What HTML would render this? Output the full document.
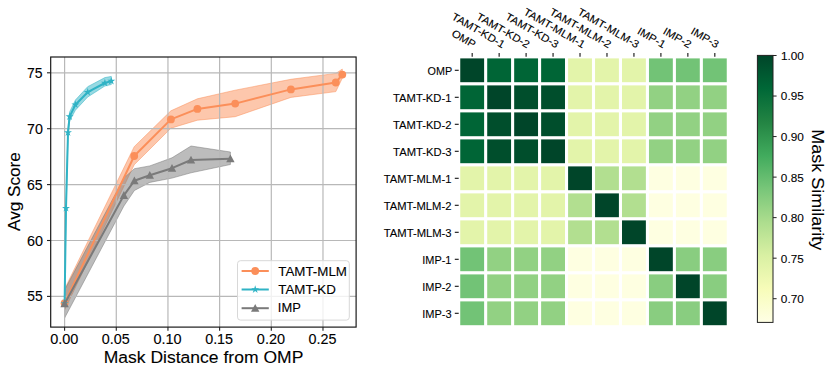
<!DOCTYPE html><html><head><meta charset="utf-8"><style>html,body{margin:0;padding:0;background:#fff;overflow:hidden}svg{display:block}text{font-family:"Liberation Sans",sans-serif;stroke:#000;stroke-width:0.1px}</style></head><body><svg width="831" height="374" viewBox="0 0 831 374" font-family="Liberation Sans, sans-serif">
<rect width="831" height="374" fill="#fff"/>
<defs><clipPath id="axclip"><rect x="50.70" y="57.00" width="305.40" height="270.10"/></clipPath></defs>
<g clip-path="url(#axclip)">
<polygon points="64.60,289.00 134.20,146.70 170.90,110.80 197.40,98.80 235.20,90.20 290.90,79.30 335.80,73.40 342.30,69.10 342.30,78.20 335.80,91.60 290.90,97.40 235.20,116.70 197.40,120.20 170.90,128.20 134.20,164.80 64.60,310.00" fill="#fb8f5a" fill-opacity="0.5" stroke="#fb8f5a" stroke-opacity="0.5" stroke-width="1"/>
<polygon points="64.60,298.00 66.00,203.00 68.00,128.00 69.60,112.00 75.40,100.00 87.70,86.70 104.90,77.60 111.30,76.40 111.30,84.50 104.90,86.00 87.70,97.00 75.40,110.20 69.60,121.00 68.00,137.00 66.00,213.00 64.60,309.00" fill="#2fb3c5" fill-opacity="0.5" stroke="#2fb3c5" stroke-opacity="0.5" stroke-width="1"/>
<polygon points="64.60,290.00 123.90,178.00 134.40,168.70 149.80,165.90 172.00,157.80 191.00,146.00 230.40,152.00 230.40,164.50 191.00,172.80 172.00,178.10 149.80,182.40 134.40,190.50 123.90,206.00 64.60,318.00" fill="#7a7a7a" fill-opacity="0.5" stroke="#7a7a7a" stroke-opacity="0.5" stroke-width="1"/>
</g>
<g stroke="#b8b8b8" stroke-width="1.2"><line x1="64.60" y1="57.0" x2="64.60" y2="327.1"/><line x1="116.28" y1="57.0" x2="116.28" y2="327.1"/><line x1="167.95" y1="57.0" x2="167.95" y2="327.1"/><line x1="219.62" y1="57.0" x2="219.62" y2="327.1"/><line x1="271.30" y1="57.0" x2="271.30" y2="327.1"/><line x1="322.98" y1="57.0" x2="322.98" y2="327.1"/><line x1="50.7" y1="296.40" x2="356.1" y2="296.40"/><line x1="50.7" y1="240.50" x2="356.1" y2="240.50"/><line x1="50.7" y1="184.60" x2="356.1" y2="184.60"/><line x1="50.7" y1="128.70" x2="356.1" y2="128.70"/><line x1="50.7" y1="72.80" x2="356.1" y2="72.80"/></g>
<g clip-path="url(#axclip)">
<polyline points="64.60,303.20 134.20,156.00 170.90,119.40 197.40,108.90 235.20,103.60 290.90,89.40 335.80,82.50 342.30,74.60" fill="none" stroke="#fb8f5a" stroke-width="2" stroke-linejoin="round"/>
<circle cx="64.60" cy="303.20" r="3.9" fill="#fb8f5a"/>
<circle cx="134.20" cy="156.00" r="3.9" fill="#fb8f5a"/>
<circle cx="170.90" cy="119.40" r="3.9" fill="#fb8f5a"/>
<circle cx="197.40" cy="108.90" r="3.9" fill="#fb8f5a"/>
<circle cx="235.20" cy="103.60" r="3.9" fill="#fb8f5a"/>
<circle cx="290.90" cy="89.40" r="3.9" fill="#fb8f5a"/>
<circle cx="335.80" cy="82.50" r="3.9" fill="#fb8f5a"/>
<circle cx="342.30" cy="74.60" r="3.9" fill="#fb8f5a"/>
<polyline points="64.60,303.50 66.00,208.20 68.00,132.50 69.60,116.60 75.40,104.70 87.70,92.20 104.90,83.00 111.30,81.10" fill="none" stroke="#2fb3c5" stroke-width="2" stroke-linejoin="round"/>
<polygon points="64.60,299.30 65.54,302.20 68.59,302.20 66.13,304.00 67.07,306.90 64.60,305.10 62.13,306.90 63.07,304.00 60.61,302.20 63.66,302.20" fill="#2fb3c5"/>
<polygon points="66.00,204.00 66.94,206.90 69.99,206.90 67.53,208.70 68.47,211.60 66.00,209.80 63.53,211.60 64.47,208.70 62.01,206.90 65.06,206.90" fill="#2fb3c5"/>
<polygon points="68.00,128.30 68.94,131.20 71.99,131.20 69.53,133.00 70.47,135.90 68.00,134.10 65.53,135.90 66.47,133.00 64.01,131.20 67.06,131.20" fill="#2fb3c5"/>
<polygon points="69.60,112.40 70.54,115.30 73.59,115.30 71.13,117.10 72.07,120.00 69.60,118.20 67.13,120.00 68.07,117.10 65.61,115.30 68.66,115.30" fill="#2fb3c5"/>
<polygon points="75.40,100.50 76.34,103.40 79.39,103.40 76.93,105.20 77.87,108.10 75.40,106.30 72.93,108.10 73.87,105.20 71.41,103.40 74.46,103.40" fill="#2fb3c5"/>
<polygon points="87.70,88.00 88.64,90.90 91.69,90.90 89.23,92.70 90.17,95.60 87.70,93.80 85.23,95.60 86.17,92.70 83.71,90.90 86.76,90.90" fill="#2fb3c5"/>
<polygon points="104.90,78.80 105.84,81.70 108.89,81.70 106.43,83.50 107.37,86.40 104.90,84.60 102.43,86.40 103.37,83.50 100.91,81.70 103.96,81.70" fill="#2fb3c5"/>
<polygon points="111.30,76.90 112.24,79.80 115.29,79.80 112.83,81.60 113.77,84.50 111.30,82.70 108.83,84.50 109.77,81.60 107.31,79.80 110.36,79.80" fill="#2fb3c5"/>
<polyline points="64.60,303.70 123.90,195.30 134.40,180.70 149.80,175.20 172.00,168.20 191.00,160.00 230.40,158.70" fill="none" stroke="#7a7a7a" stroke-width="2" stroke-linejoin="round"/>
<polygon points="64.60,299.50 60.40,307.30 68.80,307.30" fill="#7a7a7a"/>
<polygon points="123.90,191.10 119.70,198.90 128.10,198.90" fill="#7a7a7a"/>
<polygon points="134.40,176.50 130.20,184.30 138.60,184.30" fill="#7a7a7a"/>
<polygon points="149.80,171.00 145.60,178.80 154.00,178.80" fill="#7a7a7a"/>
<polygon points="172.00,164.00 167.80,171.80 176.20,171.80" fill="#7a7a7a"/>
<polygon points="191.00,155.80 186.80,163.60 195.20,163.60" fill="#7a7a7a"/>
<polygon points="230.40,154.50 226.20,162.30 234.60,162.30" fill="#7a7a7a"/>
</g>
<rect x="50.7" y="57.0" width="305.40" height="270.10" fill="none" stroke="#111" stroke-width="1.15"/>
<g stroke="#222" stroke-width="1.1"><line x1="64.60" y1="327.1" x2="64.60" y2="330.80"/><line x1="116.28" y1="327.1" x2="116.28" y2="330.80"/><line x1="167.95" y1="327.1" x2="167.95" y2="330.80"/><line x1="219.62" y1="327.1" x2="219.62" y2="330.80"/><line x1="271.30" y1="327.1" x2="271.30" y2="330.80"/><line x1="322.98" y1="327.1" x2="322.98" y2="330.80"/><line x1="47.00" y1="296.40" x2="50.7" y2="296.40"/><line x1="47.00" y1="240.50" x2="50.7" y2="240.50"/><line x1="47.00" y1="184.60" x2="50.7" y2="184.60"/><line x1="47.00" y1="128.70" x2="50.7" y2="128.70"/><line x1="47.00" y1="72.80" x2="50.7" y2="72.80"/></g>
<text transform="translate(27.19,301.42) scale(1.0096,1)" font-size="13.74" fill="#000">55</text>
<text transform="translate(26.90,245.65) scale(1.0340,1)" font-size="13.92" fill="#000">60</text>
<text transform="translate(26.91,189.75) scale(1.0158,1)" font-size="13.92" fill="#000">65</text>
<text transform="translate(27.03,133.85) scale(1.0249,1)" font-size="13.92" fill="#000">70</text>
<text transform="translate(27.05,77.82) scale(1.0194,1)" font-size="13.74" fill="#000">75</text>
<text transform="translate(50.13,344.07) scale(1.0491,1)" font-size="13.81" fill="#000">0.00</text>
<text transform="translate(101.81,344.07) scale(1.0391,1)" font-size="13.81" fill="#000">0.05</text>
<text transform="translate(153.48,344.07) scale(1.0491,1)" font-size="13.81" fill="#000">0.10</text>
<text transform="translate(205.16,344.07) scale(1.0391,1)" font-size="13.81" fill="#000">0.15</text>
<text transform="translate(256.83,344.07) scale(1.0491,1)" font-size="13.81" fill="#000">0.20</text>
<text transform="translate(308.51,344.07) scale(1.0391,1)" font-size="13.81" fill="#000">0.25</text>
<text transform="translate(103.70,362.74) scale(1.1134,1)" font-size="15.75" fill="#000">Mask Distance from OMP</text>
<text transform="translate(19.80,231.00) rotate(-90) scale(1.0304,1)" font-size="16.67">Avg Score</text>
<rect x="237.5" y="260.7" width="111.8" height="59.4" rx="3" ry="3" fill="#fff" fill-opacity="0.8" stroke="#d8d8d8" stroke-width="1"/>
<line x1="241.6" y1="271.0" x2="268.8" y2="271.0" stroke="#fb8f5a" stroke-width="2"/>
<circle cx="255.2" cy="271.0" r="3.9" fill="#fb8f5a"/>
<text transform="translate(278.23,275.90) scale(1.0368,1)" font-size="12.90" fill="#000">TAMT-MLM</text>
<line x1="241.6" y1="289.5" x2="268.8" y2="289.5" stroke="#2fb3c5" stroke-width="2"/>
<polygon points="255.20,285.30 256.14,288.20 259.19,288.20 256.73,290.00 257.67,292.90 255.20,291.10 252.73,292.90 253.67,290.00 251.21,288.20 254.26,288.20" fill="#2fb3c5"/>
<text transform="translate(278.23,293.90) scale(1.0024,1)" font-size="13.33" fill="#000">TAMT-KD</text>
<line x1="241.6" y1="308.2" x2="268.8" y2="308.2" stroke="#7a7a7a" stroke-width="2"/>
<polygon points="255.2,304.0 251.0,311.8 259.4,311.8" fill="#7a7a7a"/>
<text transform="translate(277.84,312.30) scale(1.0022,1)" font-size="12.90" fill="#000">IMP</text>
<rect x="460.25" y="58.40" width="23.86" height="23.80" fill="#004529"/>
<rect x="487.21" y="58.40" width="23.86" height="23.80" fill="#006536"/>
<rect x="514.17" y="58.40" width="23.86" height="23.80" fill="#006536"/>
<rect x="541.13" y="58.40" width="23.86" height="23.80" fill="#006536"/>
<rect x="568.09" y="58.40" width="23.86" height="23.80" fill="#e3f4aa"/>
<rect x="595.05" y="58.40" width="23.86" height="23.80" fill="#e3f4aa"/>
<rect x="622.01" y="58.40" width="23.86" height="23.80" fill="#e3f4aa"/>
<rect x="648.97" y="58.40" width="23.86" height="23.80" fill="#72c376"/>
<rect x="675.93" y="58.40" width="23.86" height="23.80" fill="#72c376"/>
<rect x="702.89" y="58.40" width="23.86" height="23.80" fill="#72c376"/>
<rect x="460.25" y="85.40" width="23.86" height="23.80" fill="#006536"/>
<rect x="487.21" y="85.40" width="23.86" height="23.80" fill="#004529"/>
<rect x="514.17" y="85.40" width="23.86" height="23.80" fill="#004e2c"/>
<rect x="541.13" y="85.40" width="23.86" height="23.80" fill="#004e2c"/>
<rect x="568.09" y="85.40" width="23.86" height="23.80" fill="#e3f4aa"/>
<rect x="595.05" y="85.40" width="23.86" height="23.80" fill="#e3f4aa"/>
<rect x="622.01" y="85.40" width="23.86" height="23.80" fill="#e3f4aa"/>
<rect x="648.97" y="85.40" width="23.86" height="23.80" fill="#92d183"/>
<rect x="675.93" y="85.40" width="23.86" height="23.80" fill="#92d183"/>
<rect x="702.89" y="85.40" width="23.86" height="23.80" fill="#92d183"/>
<rect x="460.25" y="112.40" width="23.86" height="23.80" fill="#006536"/>
<rect x="487.21" y="112.40" width="23.86" height="23.80" fill="#004e2c"/>
<rect x="514.17" y="112.40" width="23.86" height="23.80" fill="#004529"/>
<rect x="541.13" y="112.40" width="23.86" height="23.80" fill="#004e2c"/>
<rect x="568.09" y="112.40" width="23.86" height="23.80" fill="#e3f4aa"/>
<rect x="595.05" y="112.40" width="23.86" height="23.80" fill="#e3f4aa"/>
<rect x="622.01" y="112.40" width="23.86" height="23.80" fill="#e3f4aa"/>
<rect x="648.97" y="112.40" width="23.86" height="23.80" fill="#92d183"/>
<rect x="675.93" y="112.40" width="23.86" height="23.80" fill="#92d183"/>
<rect x="702.89" y="112.40" width="23.86" height="23.80" fill="#92d183"/>
<rect x="460.25" y="139.40" width="23.86" height="23.80" fill="#006536"/>
<rect x="487.21" y="139.40" width="23.86" height="23.80" fill="#004e2c"/>
<rect x="514.17" y="139.40" width="23.86" height="23.80" fill="#004e2c"/>
<rect x="541.13" y="139.40" width="23.86" height="23.80" fill="#004529"/>
<rect x="568.09" y="139.40" width="23.86" height="23.80" fill="#e3f4aa"/>
<rect x="595.05" y="139.40" width="23.86" height="23.80" fill="#e3f4aa"/>
<rect x="622.01" y="139.40" width="23.86" height="23.80" fill="#e3f4aa"/>
<rect x="648.97" y="139.40" width="23.86" height="23.80" fill="#92d183"/>
<rect x="675.93" y="139.40" width="23.86" height="23.80" fill="#92d183"/>
<rect x="702.89" y="139.40" width="23.86" height="23.80" fill="#92d183"/>
<rect x="460.25" y="166.40" width="23.86" height="23.80" fill="#e3f4aa"/>
<rect x="487.21" y="166.40" width="23.86" height="23.80" fill="#e3f4aa"/>
<rect x="514.17" y="166.40" width="23.86" height="23.80" fill="#e3f4aa"/>
<rect x="541.13" y="166.40" width="23.86" height="23.80" fill="#e3f4aa"/>
<rect x="568.09" y="166.40" width="23.86" height="23.80" fill="#004529"/>
<rect x="595.05" y="166.40" width="23.86" height="23.80" fill="#b2df90"/>
<rect x="622.01" y="166.40" width="23.86" height="23.80" fill="#b2df90"/>
<rect x="648.97" y="166.40" width="23.86" height="23.80" fill="#feffe1"/>
<rect x="675.93" y="166.40" width="23.86" height="23.80" fill="#feffe1"/>
<rect x="702.89" y="166.40" width="23.86" height="23.80" fill="#feffe1"/>
<rect x="460.25" y="193.40" width="23.86" height="23.80" fill="#e3f4aa"/>
<rect x="487.21" y="193.40" width="23.86" height="23.80" fill="#e3f4aa"/>
<rect x="514.17" y="193.40" width="23.86" height="23.80" fill="#e3f4aa"/>
<rect x="541.13" y="193.40" width="23.86" height="23.80" fill="#e3f4aa"/>
<rect x="568.09" y="193.40" width="23.86" height="23.80" fill="#b2df90"/>
<rect x="595.05" y="193.40" width="23.86" height="23.80" fill="#004529"/>
<rect x="622.01" y="193.40" width="23.86" height="23.80" fill="#b2df90"/>
<rect x="648.97" y="193.40" width="23.86" height="23.80" fill="#feffe1"/>
<rect x="675.93" y="193.40" width="23.86" height="23.80" fill="#feffe1"/>
<rect x="702.89" y="193.40" width="23.86" height="23.80" fill="#feffe1"/>
<rect x="460.25" y="220.40" width="23.86" height="23.80" fill="#e3f4aa"/>
<rect x="487.21" y="220.40" width="23.86" height="23.80" fill="#e3f4aa"/>
<rect x="514.17" y="220.40" width="23.86" height="23.80" fill="#e3f4aa"/>
<rect x="541.13" y="220.40" width="23.86" height="23.80" fill="#e3f4aa"/>
<rect x="568.09" y="220.40" width="23.86" height="23.80" fill="#b2df90"/>
<rect x="595.05" y="220.40" width="23.86" height="23.80" fill="#b2df90"/>
<rect x="622.01" y="220.40" width="23.86" height="23.80" fill="#004529"/>
<rect x="648.97" y="220.40" width="23.86" height="23.80" fill="#feffe1"/>
<rect x="675.93" y="220.40" width="23.86" height="23.80" fill="#feffe1"/>
<rect x="702.89" y="220.40" width="23.86" height="23.80" fill="#feffe1"/>
<rect x="460.25" y="247.40" width="23.86" height="23.80" fill="#72c376"/>
<rect x="487.21" y="247.40" width="23.86" height="23.80" fill="#92d183"/>
<rect x="514.17" y="247.40" width="23.86" height="23.80" fill="#92d183"/>
<rect x="541.13" y="247.40" width="23.86" height="23.80" fill="#92d183"/>
<rect x="568.09" y="247.40" width="23.86" height="23.80" fill="#feffe1"/>
<rect x="595.05" y="247.40" width="23.86" height="23.80" fill="#feffe1"/>
<rect x="622.01" y="247.40" width="23.86" height="23.80" fill="#feffe1"/>
<rect x="648.97" y="247.40" width="23.86" height="23.80" fill="#004529"/>
<rect x="675.93" y="247.40" width="23.86" height="23.80" fill="#89cd80"/>
<rect x="702.89" y="247.40" width="23.86" height="23.80" fill="#89cd80"/>
<rect x="460.25" y="274.40" width="23.86" height="23.80" fill="#72c376"/>
<rect x="487.21" y="274.40" width="23.86" height="23.80" fill="#92d183"/>
<rect x="514.17" y="274.40" width="23.86" height="23.80" fill="#92d183"/>
<rect x="541.13" y="274.40" width="23.86" height="23.80" fill="#92d183"/>
<rect x="568.09" y="274.40" width="23.86" height="23.80" fill="#feffe1"/>
<rect x="595.05" y="274.40" width="23.86" height="23.80" fill="#feffe1"/>
<rect x="622.01" y="274.40" width="23.86" height="23.80" fill="#feffe1"/>
<rect x="648.97" y="274.40" width="23.86" height="23.80" fill="#89cd80"/>
<rect x="675.93" y="274.40" width="23.86" height="23.80" fill="#004529"/>
<rect x="702.89" y="274.40" width="23.86" height="23.80" fill="#89cd80"/>
<rect x="460.25" y="301.40" width="23.86" height="23.80" fill="#72c376"/>
<rect x="487.21" y="301.40" width="23.86" height="23.80" fill="#92d183"/>
<rect x="514.17" y="301.40" width="23.86" height="23.80" fill="#92d183"/>
<rect x="541.13" y="301.40" width="23.86" height="23.80" fill="#92d183"/>
<rect x="568.09" y="301.40" width="23.86" height="23.80" fill="#feffe1"/>
<rect x="595.05" y="301.40" width="23.86" height="23.80" fill="#feffe1"/>
<rect x="622.01" y="301.40" width="23.86" height="23.80" fill="#feffe1"/>
<rect x="648.97" y="301.40" width="23.86" height="23.80" fill="#89cd80"/>
<rect x="675.93" y="301.40" width="23.86" height="23.80" fill="#89cd80"/>
<rect x="702.89" y="301.40" width="23.86" height="23.80" fill="#004529"/>
<g stroke="#111" stroke-width="1.1"><line x1="472.18" y1="52.90" x2="472.18" y2="56.80"/><line x1="499.14" y1="52.90" x2="499.14" y2="56.80"/><line x1="526.10" y1="52.90" x2="526.10" y2="56.80"/><line x1="553.06" y1="52.90" x2="553.06" y2="56.80"/><line x1="580.02" y1="52.90" x2="580.02" y2="56.80"/><line x1="606.98" y1="52.90" x2="606.98" y2="56.80"/><line x1="633.94" y1="52.90" x2="633.94" y2="56.80"/><line x1="660.90" y1="52.90" x2="660.90" y2="56.80"/><line x1="687.86" y1="52.90" x2="687.86" y2="56.80"/><line x1="714.82" y1="52.90" x2="714.82" y2="56.80"/><line x1="454.80" y1="70.30" x2="458.70" y2="70.30"/><line x1="454.80" y1="97.30" x2="458.70" y2="97.30"/><line x1="454.80" y1="124.30" x2="458.70" y2="124.30"/><line x1="454.80" y1="151.30" x2="458.70" y2="151.30"/><line x1="454.80" y1="178.30" x2="458.70" y2="178.30"/><line x1="454.80" y1="205.30" x2="458.70" y2="205.30"/><line x1="454.80" y1="232.30" x2="458.70" y2="232.30"/><line x1="454.80" y1="259.30" x2="458.70" y2="259.30"/><line x1="454.80" y1="286.30" x2="458.70" y2="286.30"/><line x1="454.80" y1="313.30" x2="458.70" y2="313.30"/></g>
<text transform="translate(427.56,74.68) scale(0.9256,1)" font-size="11.67" fill="#000">OMP</text>
<text transform="translate(393.10,101.63) scale(0.9728,1)" font-size="11.53" fill="#000">TAMT-KD-1</text>
<text transform="translate(393.10,128.74) scale(0.9606,1)" font-size="11.68" fill="#000">TAMT-KD-2</text>
<text transform="translate(393.10,155.68) scale(0.9651,1)" font-size="11.67" fill="#000">TAMT-KD-3</text>
<text transform="translate(383.76,182.63) scale(0.9721,1)" font-size="11.53" fill="#000">TAMT-MLM-1</text>
<text transform="translate(383.76,209.74) scale(0.9599,1)" font-size="11.68" fill="#000">TAMT-MLM-2</text>
<text transform="translate(383.76,236.68) scale(0.9639,1)" font-size="11.67" fill="#000">TAMT-MLM-3</text>
<text transform="translate(422.29,263.63) scale(0.9489,1)" font-size="11.53" fill="#000">IMP-1</text>
<text transform="translate(422.29,290.74) scale(0.9370,1)" font-size="11.68" fill="#000">IMP-2</text>
<text transform="translate(422.28,317.68) scale(0.9453,1)" font-size="11.67" fill="#000">IMP-3</text>
<text transform="translate(473.18,48.40) rotate(30) scale(1.08,1)" font-size="10.6" text-anchor="end">OMP</text>
<text transform="translate(502.34,48.40) rotate(30) scale(1.08,1)" font-size="10.6" text-anchor="end">TAMT-KD-1</text>
<text transform="translate(527.10,48.40) rotate(30) scale(1.08,1)" font-size="10.6" text-anchor="end">TAMT-KD-2</text>
<text transform="translate(556.06,48.40) rotate(30) scale(1.08,1)" font-size="10.6" text-anchor="end">TAMT-KD-3</text>
<text transform="translate(582.52,48.40) rotate(30) scale(1.08,1)" font-size="10.6" text-anchor="end">TAMT-MLM-1</text>
<text transform="translate(608.48,48.40) rotate(30) scale(1.08,1)" font-size="10.6" text-anchor="end">TAMT-MLM-2</text>
<text transform="translate(636.44,48.40) rotate(30) scale(1.08,1)" font-size="10.6" text-anchor="end">TAMT-MLM-3</text>
<text transform="translate(663.00,48.40) rotate(30) scale(1.08,1)" font-size="10.6" text-anchor="end">IMP-1</text>
<text transform="translate(688.76,48.40) rotate(30) scale(1.08,1)" font-size="10.6" text-anchor="end">IMP-2</text>
<text transform="translate(716.32,48.40) rotate(30) scale(1.08,1)" font-size="10.6" text-anchor="end">IMP-3</text>
<defs><linearGradient id="cb" x1="0" y1="0" x2="0" y2="1"><stop offset="0.000" stop-color="#004529"/><stop offset="0.125" stop-color="#006837"/><stop offset="0.250" stop-color="#238443"/><stop offset="0.375" stop-color="#41ab5d"/><stop offset="0.500" stop-color="#78c679"/><stop offset="0.625" stop-color="#addd8e"/><stop offset="0.750" stop-color="#d9f0a3"/><stop offset="0.875" stop-color="#f7fcb9"/><stop offset="1.000" stop-color="#ffffe5"/></linearGradient></defs>
<rect x="757.4" y="55.4" width="15.60" height="267.00" fill="url(#cb)" stroke="#222" stroke-width="1"/>
<text transform="translate(780.92,59.90) scale(1.0465,1)" font-size="11.29" fill="#000">1.00</text>
<text transform="translate(780.86,100.43) scale(1.0391,1)" font-size="11.29" fill="#000">0.95</text>
<text transform="translate(780.86,140.97) scale(1.0491,1)" font-size="11.29" fill="#000">0.90</text>
<text transform="translate(780.86,181.50) scale(1.0391,1)" font-size="11.29" fill="#000">0.85</text>
<text transform="translate(780.86,222.04) scale(1.0491,1)" font-size="11.29" fill="#000">0.80</text>
<text transform="translate(780.86,262.57) scale(1.0391,1)" font-size="11.29" fill="#000">0.75</text>
<text transform="translate(780.86,303.11) scale(1.0491,1)" font-size="11.29" fill="#000">0.70</text>
<g stroke="#222" stroke-width="1"><line x1="773.0" y1="55.50" x2="776.60" y2="55.50"/><line x1="773.0" y1="96.04" x2="776.60" y2="96.04"/><line x1="773.0" y1="136.57" x2="776.60" y2="136.57"/><line x1="773.0" y1="177.11" x2="776.60" y2="177.11"/><line x1="773.0" y1="217.64" x2="776.60" y2="217.64"/><line x1="773.0" y1="258.18" x2="776.60" y2="258.18"/><line x1="773.0" y1="298.71" x2="776.60" y2="298.71"/></g>
<text transform="translate(812.00,129.30) rotate(90) scale(1.1396,1)" font-size="15.80">Mask Similarity</text>
</svg></body></html>
